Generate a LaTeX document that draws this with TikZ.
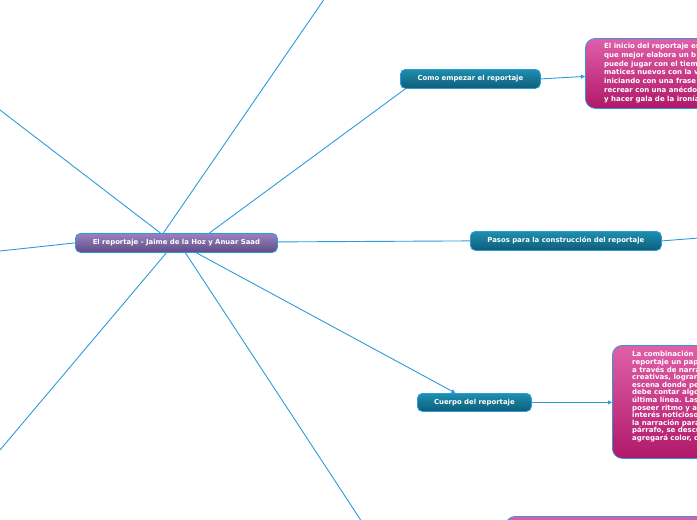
\documentclass[tikz,border=0pt]{standalone}
\usepackage{fontspec}
\setmainfont{DejaVu Sans}
\usetikzlibrary{arrows.meta}
\definecolor{ln}{HTML}{2D9BDB}
\definecolor{tealA}{HTML}{1E8FB0}
\definecolor{tealB}{HTML}{0E5D78}
\definecolor{purA}{HTML}{9A82C0}
\definecolor{purB}{HTML}{5E4C86}
\definecolor{pkA}{HTML}{E060A8}
\definecolor{pkB}{HTML}{B0186A}
\tikzset{
 conn/.style={ln,line width=0.9pt},
 arr/.style={conn,-{Triangle[length=4pt,width=4pt]}},
 topic/.style={draw=ln,line width=0.8pt,rounded corners=5pt,top color=tealA,bottom color=tealB,text=white,font=\bfseries\fontsize{6.9}{7}\selectfont,inner sep=0pt,anchor=north west},
 note/.style={draw=ln,line width=0.8pt,rounded corners=10pt,top color=pkA,bottom color=pkB,anchor=north west},
 notetext/.style={text=white,font=\bfseries\fontsize{7}{8.8}\selectfont,align=left,anchor=north west,inner sep=0pt}
}
\begin{document}
\begin{tikzpicture}[x=1pt,y=-1pt]
\useasboundingbox (0,0) rectangle (697,520);
\begin{scope}
\clip (0,0) rectangle (697,520);
% nodes
\node[topic,top color=purA,bottom color=purB,minimum width=202pt,minimum height=19pt] (c) at (75,233) {El reportaje - Jaime de la Hoz y Anuar Saad};
\node[topic,minimum width=140pt,minimum height=19pt] (como) at (400,69) {Como empezar el reportaje};
\node[topic,minimum width=191pt,minimum height=19pt] (pasos) at (470,231) {Pasos para la construcción del reportaje};
\node[topic,minimum width=114pt,minimum height=18pt] (cuerpo) at (417,393) {Cuerpo del reportaje};
\node[note,minimum width=160pt,minimum height=70pt] (n1) at (585,38) {};
\node[notetext] (t1) at (604,43) {El inicio del reportaje es\\que mejor elabora un b\\puede jugar con el tiem\\matices nuevos con la v\\iniciando con una frase\\recrear con una anécdo\\y hacer gala de la ironía};
\node[note,minimum width=130pt,minimum height=113pt] (n2) at (612,345) {};
\node[notetext,font=\bfseries\fontsize{7}{7.6}\selectfont] (t2) at (632,351) {La combinación\\reportaje un pap\\a través de narra\\creativas, lograr\\escena donde pe\\debe contar algo\\última línea. Las\\poseer ritmo y a\\interés noticioso\\la narración para\\párrafo, se descu\\agregará color, d};
\node[note,minimum width=220pt,minimum height=30pt] (n3) at (505,516) {};
% free ends
\coordinate (e1) at (325,-2);
\coordinate (e2) at (0,110);
\coordinate (e3) at (0,251);
\coordinate (e4) at (0,450);
\coordinate (e5) at (362,522);
\coordinate (e6) at (699,238);
% connectors
\draw[conn] ([xshift=-13pt]c.north) -- (e1);
\draw[conn] ([xshift=-16pt]c.north) -- (e2);
\draw[conn] (c.west) -- (e3);
\draw[conn] ([xshift=-10pt]c.south) -- (e4);
\draw[conn] ([xshift=9pt]c.south) -- (e5);
\draw[conn] ([xshift=33pt]c.north) -- ([xshift=-65pt]como.south);
\draw[conn] ([yshift=1pt]c.east) -- (pasos.west);
\draw[arr] ([xshift=20pt]c.south) -- ([xshift=-19pt]cuerpo.north);
\draw[arr] (como.east) -- ([yshift=-3pt]n1.west);
\draw[conn] (pasos.east) -- (e6);
\draw[arr] (cuerpo.east) -- (cuerpo.east -| n2.west);
\end{scope}
\end{tikzpicture}
\end{document}
